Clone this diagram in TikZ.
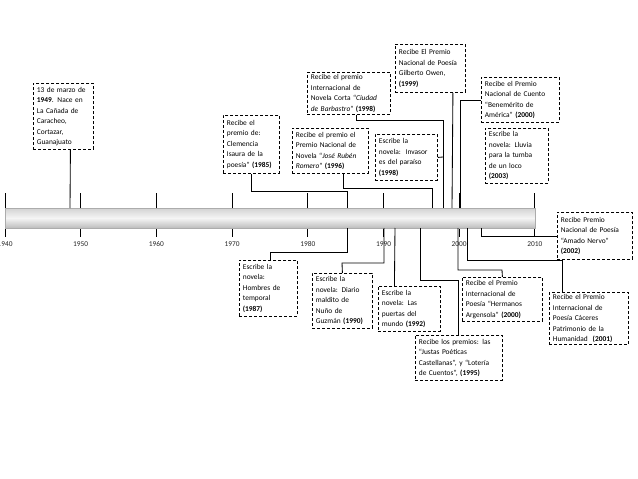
\documentclass[tikz,border=0pt]{standalone}
\usepackage{fontspec}
\setmainfont{Carlito}
\begin{document}
\begin{tikzpicture}[x=1pt,y=-1pt,
  box/.style={draw=black, line width=0.85pt, dash pattern=on 3pt off 2pt, anchor=north west,
    inner xsep=3.5pt, inner ysep=2pt, align=left, font=\fontsize{7.4}{10.5}\selectfont},
  conn/.style={draw=black, line width=0.85pt},
  tickline/.style={draw=black, line width=0.85pt},
  yr/.style={font=\fontsize{7.4}{9}\selectfont, text=black!85, anchor=center}]
\useasboundingbox (0,0) rectangle (638,479);
\fill[white] (0,0) rectangle (638,479);

% ticks and year labels
\foreach \yr in {1940,1950,...,2010}{
  \pgfmathsetmacro{\xx}{5+7.57*(\yr-1940)}
  \draw[tickline] (\xx,193) -- (\xx,237);
  \node[yr] (lab\yr) at (\xx,244) {\yr};
}

% bar
\node[draw=gray!65, line width=0.5pt, top color=gray!35, bottom color=gray!52, middle color=gray!8,
  minimum width=530pt, minimum height=20pt, inner sep=0pt] (bar) at (270,218) {};

% bar attachment points
\coordinate (a1949) at (70,208);
\coordinate (a1985) at (347,208);
\coordinate (a1996) at (432,208);
\coordinate (a1998) at (443,208);
\coordinate (a1999) at (452,208);
\coordinate (a2000) at (460,208);
\coordinate (a2002) at (481,228);
\coordinate (a1987) at (347,228);
\coordinate (a1990) at (384,228);
\coordinate (a1992) at (395,228);
\coordinate (a1995) at (420,228);
\coordinate (a2000b) at (458,228);
\coordinate (a2001) at (467,228);

% upper boxes
\node[box, text width=53pt, minimum height=66pt] (b1) at (33,83)
  {13 de marzo de\\\textbf{1949}. Nace en\\La Cañada de\\Caracheo,\\Cortazar,\\Guanajuato};
\node[box, text width=49pt, minimum height=58pt] (b2) at (223,115)
  {Recibe el\\premio de:\\Clemencia\\Isaura de la\\poesía'' \textbf{(1985)}};
\node[box, text width=76pt, minimum height=41pt] (b3) at (307,72)
  {Recibe el premio\\Internacional de\\Novela Corta ``\textit{Ciudad}\\\textit{de Barbastro}'' \textbf{(1998)}};
\node[box, text width=69pt, minimum height=45pt] (b4) at (292,128)
  {Recibe el premio el\\Premio Nacional de\\Novela ``\textit{José Rubén}\\\textit{Romero}'' \textbf{(1996)}};
\node[box, text width=55pt, minimum height=46pt] (b5) at (375,134)
  {Escribe la\\novela:\ \ Invasor\\es del paraíso\\\textbf{(1998)}};
\node[box, text width=63pt, minimum height=48pt] (b6) at (395,44)
  {Recibe El Premio\\Nacional de Poesía\\Gilberto Owen,\\\textbf{(1999)}};
\node[box, text width=71pt, minimum height=45pt] (b7) at (481,77)
  {Recibe el Premio\\Nacional de Cuento\\``Benemérito de\\América'' \textbf{(2000)}};
\node[box, text width=56pt, minimum height=55pt] (b8) at (485,128)
  {Escribe la\\novela: Lluvia\\para la tumba\\de un loco\\\textbf{(2003)}};
\node[box, text width=68pt, minimum height=47pt] (b9) at (557,212)
  {Recibe Premio\\Nacional de Poesía\\``Amado Nervo''\\\textbf{(2002)}};

% lower boxes
\node[box, text width=51pt, minimum height=56pt] (b10) at (239,260)
  {Escribe la\\novela:\\Hombres de\\temporal\\\textbf{(1987)}};
\node[box, text width=53pt, minimum height=55pt] (b11) at (312,273)
  {Escribe la\\novela: Diario\\maldito de\\Nuño de\\Guzmán \textbf{(1990)}};
\node[box, text width=55pt, minimum height=45pt] (b12) at (378,286)
  {Escribe la\\novela: Las\\puertas del\\mundo \textbf{(1992)}};
\node[box, text width=73pt, minimum height=44pt] (b13) at (462,277)
  {Recibe el Premio\\Internacional de\\Poesía ``Hermanos\\Argensola'' \textbf{(2000)}};
\node[box, text width=80pt, minimum height=45pt] (b14) at (415,335)
  {Recibe los premios: las\\``Justas Poéticas\\Castellanas'', y ``Lotería\\de Cuentos'', \textbf{(1995)}};
\node[box, text width=72pt, minimum height=51pt] (b15) at (549,292)
  {Recibe el Premio\\Internacional de\\Poesía Cáceres\\Patrimonio de la\\Humanidad\ \ \textbf{(2001)}};

% connectors above the bar
\draw[conn] ([xshift=7pt]b1.south) -- (a1949);
\draw[conn] (b2.south) |- (347,191) -- (a1985);
\draw[conn] ([xshift=12.5pt]b4.south) |- (432,188) -- (a1996);
\draw[conn] ([xshift=7.5pt]b3.south) |- (443,120) -- (a1998);
\draw[conn] (b5.east) -- (443,157);
\draw[conn] ([xshift=22.5pt]b6.south) -- (a1999);
\draw[conn] (b7.west) -| (a2000);
\draw[conn] (b9.west) -| (a2002);

% connectors below the bar
\draw[conn] (a1987) |- (270,252) -- (b10.north -| 270,0);
\draw[conn] (a1990) |- (342,263) -- (b11.north);
\draw[conn] (a1992) -- ([xshift=-15pt]b12.north);
\draw[conn] (a1995) |- (458,280) -- (b14.north -| 458,0);
\draw[conn] (a2000b) |- (502,270) -- (b13.north);
\draw[conn] (a2001) |- (562,260) -- (b15.north -| 562,0);
\end{tikzpicture}
\end{document}
